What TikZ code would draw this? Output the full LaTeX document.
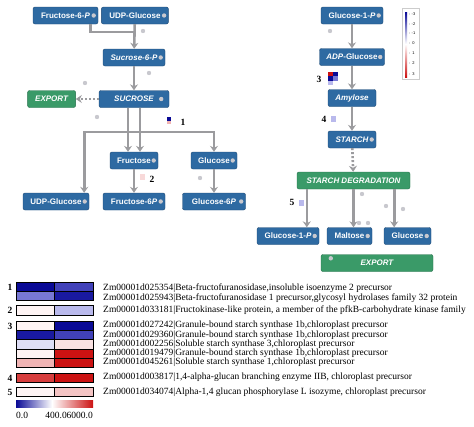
\documentclass[tikz,border=0pt]{standalone}
\usepackage{fontspec}
\setmainfont{Liberation Serif}
\setsansfont{Liberation Sans}
\usetikzlibrary{arrows.meta,positioning,calc}
\definecolor{metblue}{RGB}{46,106,162}
\definecolor{metedge}{RGB}{28,72,115}
\definecolor{pathgreen}{RGB}{58,154,104}
\definecolor{pathedge}{RGB}{35,110,72}
\definecolor{linegray}{RGB}{155,155,158}
\definecolor{dotgray}{RGB}{200,200,206}
\definecolor{hmnavy}{RGB}{10,10,150}
\definecolor{hmdeep}{RGB}{25,25,160}
\definecolor{hmblue}{RGB}{65,65,185}
\definecolor{hmmid}{RGB}{120,120,212}
\definecolor{hmlight}{RGB}{185,185,236}
\definecolor{hmlav}{RGB}{222,222,246}
\definecolor{hmwhite}{RGB}{254,244,244}
\definecolor{hmpale}{RGB}{250,226,226}
\definecolor{hmpink}{RGB}{240,180,180}
\definecolor{hmrose}{RGB}{244,196,196}
\definecolor{hmsalmon}{RGB}{215,62,62}
\definecolor{hmred}{RGB}{204,18,18}
\begin{document}
\begin{tikzpicture}[x=1pt, y=-1pt,
    met/.style={rectangle, rounded corners=2pt, draw=metedge, fill=metblue, text=white, font=\sffamily\bfseries\fontsize{8}{9}\selectfont, minimum height=17pt, inner sep=1pt},
    pway/.style={met, draw=pathedge, fill=pathgreen},
    link/.style={draw=linegray, line width=2.6pt},
    flow/.style={link, -{Stealth[length=6pt,width=8pt,inset=2pt]}},
    weak/.style={flow, dash pattern=on 2pt off 2pt},
    dot/.style={fill=dotgray},
    tag/.style={font=\bfseries\fontsize{9.5}{10}\selectfont, inner sep=0pt},
    gene/.style={anchor=west, font=\fontsize{9.5}{10}\selectfont, inner sep=0pt},
    cell/.style={draw=black, line width=0.5pt},
    tick/.style={font=\sffamily\fontsize{4}{4}\selectfont, inner sep=0pt}
]
    \useasboundingbox (0,0) rectangle (474,426);

    \node[met, minimum width=65pt] (f6p) at (65.5,15.5) {Fructose-6-\textit{P}};
    \node[met, minimum width=67pt, right=3pt of f6p] (udpg) {UDP-Glucose};
    \node[met, minimum width=62pt] (s6p) at (134,57.5) {\itshape Sucrose-6-P};
    \node[met, minimum width=70pt] (suc) at (134,99) {\itshape SUCROSE};
    \node[pway, minimum width=48pt, left=23pt of suc] (exp1) {\itshape EXPORT};
    \node[met, minimum width=48pt] (fru) at (134,160.5) {Fructose};
    \node[met, minimum width=46pt] (glc) at (214,160.5) {Glucose};
    \node[met, minimum width=66pt] (udpg2) at (56,201.5) {UDP-Glucose};
    \node[met, minimum width=62pt] (f6p2) at (134,201.5) {Fructose-6\textit{P}};
    \node[met, minimum width=63pt] (g6p) at (214,201.5) {Glucose-6\textit{P}};

    \node[met, minimum width=62pt] (g1p) at (352,15.5) {Glucose-1-\textit{P}};
    \node[met, minimum width=65pt] (adpg) at (352,57) {\textit{ADP}-Glucose};
    \node[met, minimum width=48pt] (amy) at (352,98) {\itshape Amylose};
    \node[met, minimum width=48pt] (sta) at (352,139.5) {\itshape STARCH};
    \node[pway, minimum width=113pt] (sdeg) at (353.5,180.5) {\itshape STARCH DEGRADATION};
    \node[met, minimum width=62pt] (g1p2) at (288,236) {Glucose-1-\textit{P}};
    \node[met, minimum width=45pt] (mal) at (349.5,236) {Maltose};
    \node[met, minimum width=47pt] (glc2) at (407.5,236) {Glucose};
    \node[pway, minimum width=112pt] (exp2) at (377,263) {\itshape EXPORT};

    \coordinate (j1) at (134,32);
    \coordinate (j2) at (139,132);
    \draw[link] ([xshift=-8pt]f6p.south east) |- (j1);
    \draw[flow] (udpg) -- (s6p);
    \draw[flow] (s6p) -- (suc);
    \draw[weak] (suc) -- (exp1);
    \draw[flow] ([xshift=-6pt]suc.south) -- ([xshift=-6pt]fru.north);
    \draw[flow] ([xshift=6pt]suc.south) -- ([xshift=6pt]fru.north);
    \draw[flow] (j2) -| ([xshift=-5pt]udpg2.north east);
    \draw[flow] (j2) -| (glc.north);
    \draw[flow] (fru) -- (f6p2);
    \draw[flow] (glc) -- (g6p);

    \draw[flow] (g1p) -- (adpg);
    \draw[flow] (adpg) -- (amy);
    \draw[flow] (amy) -- (sta);
    \draw[weak] (sta) -- (sdeg);
    \draw[flow] ($(sdeg.south west)+(10,0)$) coordinate (d1) -- (d1 |- g1p2.north);
    \draw[flow] (sdeg.south) -- (sdeg.south |- mal.north);
    \draw[flow] ($(sdeg.south east)+(-16,0)$) coordinate (d3) -- (d3 |- glc2.north);

    \foreach \n in {f6p,udpg,s6p,fru,glc,udpg2,f6p2,g6p,g1p,adpg,sta,g1p2,mal,glc2}
        \fill[dot] ([xshift=-4.5pt]\n.east) circle (2.2pt);
    \fill[dot] ([xshift=-8pt]suc.east) circle (2.2pt);
    \fill[dot] ([shift={(10pt,-4pt)}]exp2.north west) circle (2.2pt);
    \foreach \p in {(143,31),(149,73),(85,83),(97,117),(200,178),(330,31),(362,194),(386,206),(403,209),(359,223),(368,223)}
        \fill[dot] \p circle (2.2pt);

    \fill[hmnavy] (167,117) rectangle (171,120.5);
    \fill[hmpink] (167,120.5) rectangle (171,124);
    \node[tag] (m1) at (183,122) {1};
    \fill[hmpale!80!hmpink] (140,174) rectangle (145,180);
    \node[tag] (m2) at (152,179) {2};
    \fill[hmred] (328,72) rectangle (333,76.3);
    \fill[hmnavy] (333,72) rectangle (338,76.3);
    \fill[hmnavy] (328,76.3) rectangle (333,80.6);
    \fill[hmmid] (333,76.3) rectangle (338,80.6);
    \fill[hmlight] (328,80.6) rectangle (333,85);
    \node[tag] (m3) at (319,79) {3};
    \fill[hmlight] (331,116) rectangle (336,122);
    \node[tag] (m4) at (324,119) {4};
    \fill[hmlight] (299,200) rectangle (304,206);
    \node[tag] (m5) at (292,202) {5};

    \draw[gray!40, fill=white] (402,8) rectangle (419,79);
    \shade[top color=hmnavy, bottom color=white] (405,12) rectangle (407,44);
    \shade[top color=white, bottom color=hmred] (405,44) rectangle (407,77);
    \foreach \v/\y [count=\i] in {-3/14,-2/24,-1/33,0/43,1/53,2/63,3/74} {
        \fill[gray] (409.5,\y) circle (0.3pt);
        \node[tick] (s\i) at (413.5,\y) {\v};
    }

    \foreach \y/\cl/\cr in {282/hmnavy/hmblue, 291.3/hmmid/hmdeep, 305.5/hmwhite/hmlight,
        321/hmwhite/hmnavy, 330.3/hmdeep/hmblue, 339.6/hmlav/hmpale, 348.9/hmwhite/hmred,
        358.2/hmpink/hmred, 373/hmsalmon/hmred, 387/hmwhite/hmrose} {
        \fill[\cl] (16,\y) rectangle (54.5,\y+9.3);
        \fill[\cr] (54.5,\y) rectangle (93,\y+9.3);
        \draw[cell] (16,\y) rectangle (54.5,\y+9.3);
        \draw[cell] (54.5,\y) rectangle (93,\y+9.3);
    }
    \foreach \t/\y [count=\i] in {{1}/287, {2}/310, {3}/326, {4}/378, {5}/392}
        \node[tag] (g\i) at (10,\y) {\t};

    \foreach \t/\y [count=\i] in {
        {Zm00001d025354|Beta-fructofuranosidase,insoluble isoenzyme 2 precursor}/288,
        {Zm00001d025943|Beta-fructofuranosidase 1 precursor,glycosyl hydrolases family 32 protein}/298,
        {Zm00001d033181|Fructokinase-like protein, a member of the pfkB-carbohydrate kinase family}/310,
        {Zm00001d027242|Granule-bound starch synthase 1b,chloroplast precursor}/325,
        {Zm00001d029360|Granule-bound starch synthase 1b,chloroplast precursor}/335,
        {Zm00001d002256|Soluble starch synthase 3,chloroplast precursor}/344,
        {Zm00001d019479|Granule-bound starch synthase 1b,chloroplast precursor}/353,
        {Zm00001d045261|Soluble starch synthase 1,chloroplast precursor}/362,
        {Zm00001d003817|1,4-alpha-glucan branching enzyme IIB, chloroplast precursor}/377,
        {Zm00001d034074|Alpha-1,4 glucan phosphorylase L isozyme, chloroplast precursor}/392}
        \node[gene] (t\i) at (103,\y) {\t};

    \shade[left color=hmnavy, right color=white] (16,400) rectangle (52,407);
    \shade[left color=white, right color=hmred] (52,400) rectangle (93,407);
    \node[gene] (c0) at (16,415) {0.0};
    \node[gene, anchor=east] (c1) at (67,415) {400.0};
    \node[gene, anchor=east] (c2) at (93,415) {6000.0};
\end{tikzpicture}
\end{document}
